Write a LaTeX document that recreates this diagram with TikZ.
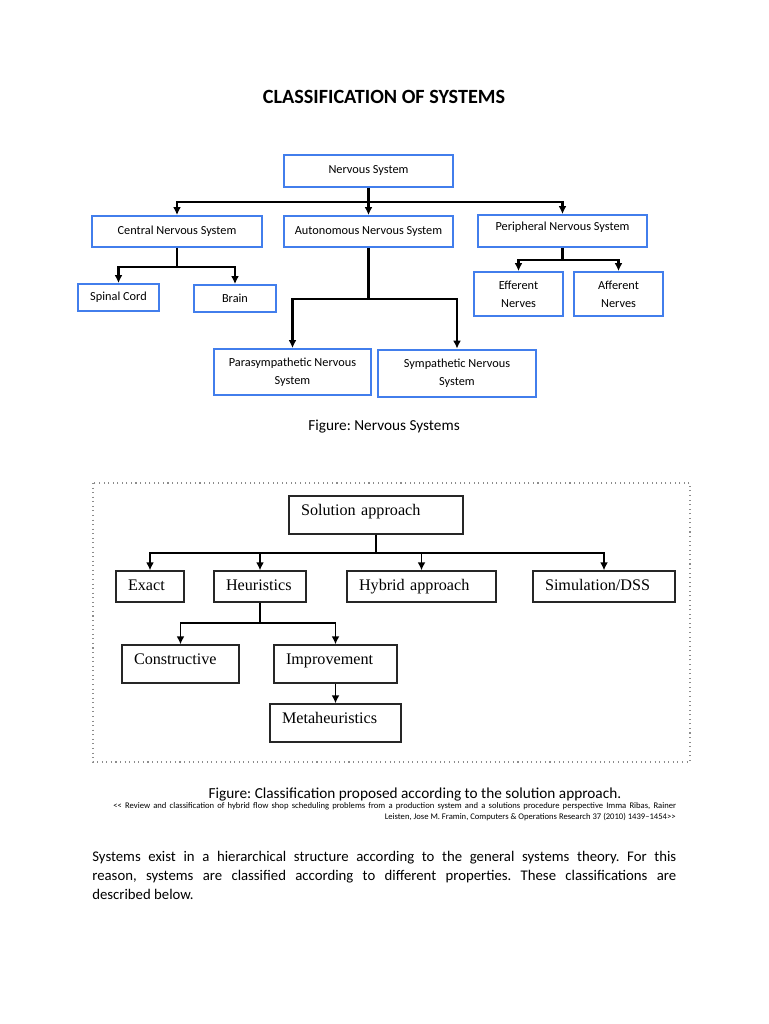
\documentclass[tikz,border=0pt]{standalone}
\usepackage{fontspec}
\setmainfont{Carlito}
\newfontfamily\timesfont{Liberation Serif}
\usetikzlibrary{arrows.meta}
\tikzset{% change default arrow tips
    >={Latex[length=4.5pt,width=4.5pt]}
}
\definecolor{boxblue}{RGB}{66,126,236}
\tikzset{
    nsbox/.style={draw=boxblue, line width=1.1pt, align=center, inner sep=1pt,
        font=\fontsize{7}{10.2}\selectfont},
    nsarrow/.style={->, line width=1.7pt},
    sabox/.style={draw=black!85, line width=0.8pt, align=left, inner xsep=0.24cm,
        inner ysep=0pt, text height=6.5pt, text depth=2.5pt,
        font=\timesfont\fontsize{9.2}{11}\selectfont},
    tallbox/.style={sabox, minimum height=0.76cm, text depth=6pt},
    saarrow/.style={->, line width=0.9pt}
}
\frenchspacing

\begin{document}
\begin{tikzpicture}[x=0.02cm, y=-0.02cm]
    	% page
    	\fill[white] (0,0) rectangle (768,1024);
    	\useasboundingbox (0,0) rectangle (768,1024);

    	\node[anchor=base, font=\bfseries\fontsize{11.5}{13}\selectfont] (title) at (384,104) {CLASSIFICATION OF SYSTEMS};

    	% nervous system boxes
    	\node[nsbox, minimum width=3.38cm, minimum height=0.64cm] (ns) at (368.5,171) {Nervous System};
    	\node[nsbox, minimum width=3.40cm, minimum height=0.62cm] (cns) at (177,231.5) {Central Nervous System};
    	\node[nsbox, minimum width=3.38cm, minimum height=0.62cm] (ans) at (368.5,231.5) {Autonomous Nervous System};
    	\node[nsbox, minimum width=3.38cm, minimum height=0.64cm, text depth=5pt] (pns) at (562.5,231) {Peripheral Nervous System};
    	\node[nsbox, minimum width=1.62cm, minimum height=0.54cm] (sc) at (118.5,297.5) {Spinal Cord};
    	\node[nsbox, minimum width=1.64cm, minimum height=0.54cm] (br) at (235,298.5) {Brain};
    	\node[nsbox, minimum width=3.14cm, minimum height=0.92cm] (para) at (292.5,372) {Parasympathetic Nervous\\System};
    	\node[nsbox, minimum width=3.16cm, minimum height=0.94cm, line width=1.6pt] (sym) at (457,373.5) {Sympathetic Nervous\\System};
    	\node[nsbox, minimum width=1.78cm, minimum height=0.88cm] (eff) at (518.5,294) {Efferent\\Nerves};
    	\node[nsbox, minimum width=1.78cm, minimum height=0.88cm] (aff) at (618.5,294) {Afferent\\Nerves};

    	% nervous system arrows
    	\coordinate (nsbus) at (0,202);
    	\coordinate (cnsbus) at (0,267);
    	\coordinate (ansbus) at (0,299);
    	\coordinate (pnsbus) at (0,260);
    	\draw[nsarrow] (ns.south) -- (ns.south |- nsbus) -| (cns.north);
    	\draw[nsarrow] (ns.south) -- (ans.north);
    	\draw[nsarrow] (ns.south) -- (ns.south |- nsbus) -| (pns.north);
    	\draw[nsarrow] (cns.south) -- (cns.south |- cnsbus) -| (sc.north);
    	\draw[nsarrow] (cns.south) -- (cns.south |- cnsbus) -| (br.north);
    	\draw[nsarrow] (ans.south) -- (ans.south |- ansbus) -| (para.north);
    	\draw[nsarrow] (ans.south) -- (ans.south |- ansbus) -| (sym.north);
    	\draw[nsarrow] (pns.south) -- (pns.south |- pnsbus) -| (eff.north);
    	\draw[nsarrow] (pns.south) -- (pns.south |- pnsbus) -| (aff.north);

    	\node[anchor=base, font=\fontsize{8.7}{10}\selectfont] (cap1) at (384,430) {Figure: Nervous Systems};

    	% solution approach frame
    	\draw[dotted, black!45, line width=0.6pt] (93,483) rectangle (690,762);

    	% solution approach boxes
    	\node[tallbox, text width=3.00cm] (sa) at (376,515) {Solution approach};
    	\node[sabox, text width=0.88cm, minimum height=0.62cm] (ex) at (150,586.5) {Exact};
    	\node[sabox, text width=1.36cm, minimum height=0.62cm] (he) at (260,586.5) {Heuristics};
    	\node[sabox, text width=2.50cm, minimum height=0.62cm] (hy) at (421.5,586.5) {Hybrid approach};
    	\node[sabox, text width=2.36cm, minimum height=0.62cm] (si) at (604,586.5) {Simulation/DSS};
    	\node[tallbox, text width=1.86cm] (co) at (180.5,664) {Constructive};
    	\node[tallbox, text width=1.98cm] (im) at (335.5,664) {Improvement};
    	\node[tallbox, text width=2.14cm] (me) at (335.5,723) {Metaheuristics};

    	% solution approach arrows
    	\coordinate (sabus) at (0,553);
    	\coordinate (hebus) at (0,623);
    	\draw[saarrow] (sa.south) -- (sa.south |- sabus) -| (ex.north);
    	\draw[saarrow] (sa.south) -- (sa.south |- sabus) -| (he.north);
    	\draw[saarrow] (sa.south) -- (sa.south |- sabus) -| (hy.north);
    	\draw[saarrow] (sa.south) -- (sa.south |- sabus) -| (si.north);
    	\draw[saarrow] (he.south) -- (he.south |- hebus) -| (co.north);
    	\draw[saarrow] (he.south) -- (he.south |- hebus) -| (im.north);
    	\draw[saarrow] (im.south) -- (me.north);

    	% captions and text
    	\node[anchor=base, font=\fontsize{8.7}{10}\selectfont] (cap2) at (415,798) {Figure: Classification proposed according to the solution approach.};
    	\node[anchor=base west, inner sep=0pt, font=\fontsize{4.9}{6}\selectfont] (cite1) at (113,808) {\makebox[11.26cm][s]{<\kern0pt< Review and classification of hybrid flow shop scheduling problems from a production system and a solutions procedure perspective Imma Ribas, Rainer}};
    	\node[anchor=base east, inner sep=0pt, font=\fontsize{4.9}{6}\selectfont] (cite2) at (676,819) {Leisten, Jose M. Framin, Computers \& Operations Research 37 (2010) 1439–1454>\kern0pt>};

    	\node[anchor=base west, inner sep=0pt, font=\fontsize{8.4}{10}\selectfont] (body1) at (92,861) {\makebox[11.68cm][s]{Systems exist in a hierarchical structure according to the general systems theory. For this}};
    	\node[anchor=base west, inner sep=0pt, font=\fontsize{8.4}{10}\selectfont] (body2) at (92,880) {\makebox[11.68cm][s]{reason, systems are classified according to different properties. These classifications are}};
    	\node[anchor=base west, inner sep=0pt, font=\fontsize{8.4}{10}\selectfont] (body3) at (92,899) {described below.};
\end{tikzpicture}
\end{document}
